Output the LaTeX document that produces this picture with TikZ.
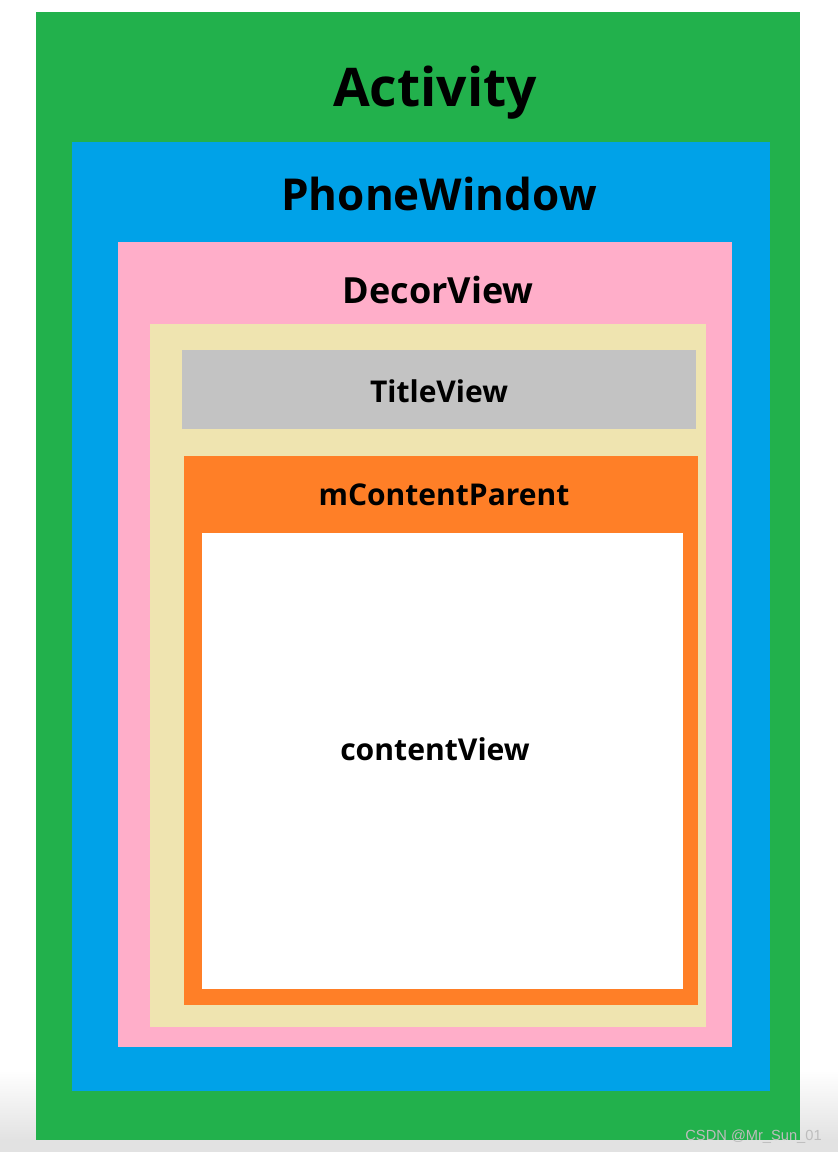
\documentclass[tikz,border=0pt]{standalone}
\usepackage{fontspec}
\setmainfont{Open Sans}
\setsansfont{Liberation Sans}
\definecolor{cgreen}{HTML}{22B14C}
\definecolor{cblue}{HTML}{00A2E8}
\definecolor{cpink}{HTML}{FFAEC9}
\definecolor{cbeige}{HTML}{EFE4B0}
\definecolor{cgray}{HTML}{C3C3C3}
\definecolor{corange}{HTML}{FF7F27}
\definecolor{cband}{HTML}{E2E2E2}
\definecolor{cmark}{HTML}{BDBDBD}
\tikzset{
  lbl/.style={anchor=base, inner sep=0pt, text=black, font=\bfseries},
  wm/.style={anchor=base east, inner sep=0pt, text=cmark, font=\sffamily\fontsize{11}{13}\selectfont}
}
\begin{document}
\begin{tikzpicture}[x=0.75pt,y=-0.75pt]
\useasboundingbox (0,0) rectangle (838,1152);
\fill[white] (0,0) rectangle (838,1152);
\shade[top color=white, bottom color=cband] (0,1070) rectangle (838,1140);
\fill[cband] (0,1140) rectangle (838,1152);
% boxes
\fill[cgreen] (36,12) rectangle (800,1140);
\fill[cblue] (72,142) rectangle (770,1091);
\fill[cpink] (118,242) rectangle (732,1047);
\fill[cbeige] (150,324) rectangle (706,1027);
\fill[cgray] (182,350) rectangle (696,429);
\fill[corange] (184,456) rectangle (698,1005);
\fill[white] (202,533) rectangle (683,989);
% labels
\node[lbl, font=\bfseries\fontsize{40}{46}\selectfont] (activity) at (435,107) {Activity};
\node[lbl, font=\bfseries\fontsize{33}{38}\selectfont] (phonewindow) at (439,210) {PhoneWindow};
\node[lbl, font=\bfseries\fontsize{27}{32}\selectfont] (decorview) at (438,303) {DecorView};
\node[lbl, font=\bfseries\fontsize{22.5}{27}\selectfont] (titleview) at (439,402) {TitleView};
\node[lbl, font=\bfseries\fontsize{22.5}{27}\selectfont] (mcontentparent) at (444,505) {mContentParent};
\node[lbl, font=\bfseries\fontsize{22.6}{27}\selectfont] (contentview) at (435,760) {contentView};
\node[wm] (watermark) at (822,1140) {CSDN @Mr\_Sun\_01};
\end{tikzpicture}
\end{document}
